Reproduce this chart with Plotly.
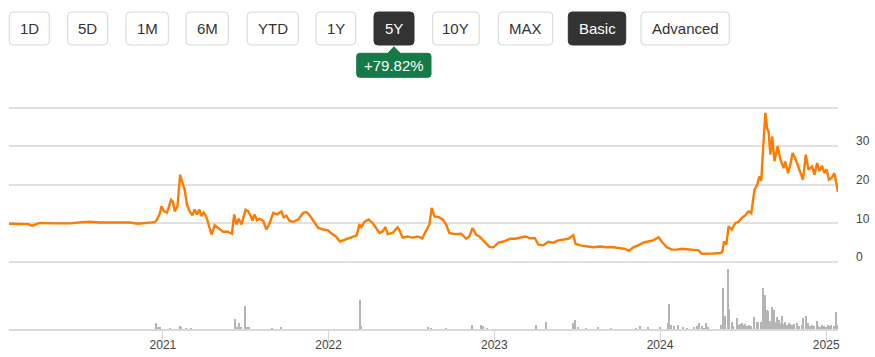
import plotly.graph_objects as go

# ---------------- data ----------------
price_dates = [
    "2020-01-28", "2020-02-21", "2020-03-10", "2020-03-19", "2020-03-28", "2020-04-05",
    "2020-05-08", "2020-06-10", "2020-07-07", "2020-07-24", "2020-08-15", "2020-09-17",
    "2020-10-20", "2020-11-07", "2020-11-29", "2020-12-14", "2020-12-19", "2020-12-25",
    "2020-12-29", "2021-01-03", "2021-01-10", "2021-01-19", "2021-01-23", "2021-01-27",
    "2021-02-02", "2021-02-08", "2021-02-13", "2021-02-18", "2021-02-23", "2021-03-01",
    "2021-03-07", "2021-03-12", "2021-03-17", "2021-03-22", "2021-03-27", "2021-04-01",
    "2021-04-07", "2021-04-13", "2021-04-18", "2021-04-25", "2021-05-06", "2021-05-14",
    "2021-05-22", "2021-05-28", "2021-06-02", "2021-06-07", "2021-06-12", "2021-06-17",
    "2021-06-23", "2021-07-02", "2021-07-08", "2021-07-13", "2021-07-17", "2021-07-22",
    "2021-07-27", "2021-08-02", "2021-08-10", "2021-08-17", "2021-08-23", "2021-09-01",
    "2021-09-10", "2021-09-19", "2021-09-24", "2021-09-30", "2021-10-07", "2021-10-15",
    "2021-10-26", "2021-11-06", "2021-11-13", "2021-11-20", "2021-12-01", "2021-12-09",
    "2021-12-20", "2021-12-31", "2022-01-06", "2022-01-17", "2022-01-26", "2022-02-05",
    "2022-02-16", "2022-02-27", "2022-03-04", "2022-03-10", "2022-03-13", "2022-03-21",
    "2022-03-30", "2022-04-08", "2022-04-15", "2022-04-23", "2022-04-30", "2022-05-06",
    "2022-05-11", "2022-05-22", "2022-06-02", "2022-06-06", "2022-06-13", "2022-06-24",
    "2022-07-05", "2022-07-16", "2022-07-26", "2022-08-04", "2022-08-11", "2022-08-16",
    "2022-08-22", "2022-09-01", "2022-09-09", "2022-09-17", "2022-09-24", "2022-10-05",
    "2022-10-20", "2022-10-31", "2022-11-07", "2022-11-14", "2022-11-22", "2022-11-29",
    "2022-12-10", "2022-12-21", "2022-12-30", "2023-01-10", "2023-01-21", "2023-02-05",
    "2023-02-16", "2023-02-27", "2023-03-10", "2023-03-21", "2023-03-31", "2023-04-08",
    "2023-04-19", "2023-04-30", "2023-05-11", "2023-05-22", "2023-06-02", "2023-06-13",
    "2023-06-24", "2023-06-29", "2023-07-09", "2023-07-23", "2023-08-07", "2023-08-22",
    "2023-09-05", "2023-09-20", "2023-10-05", "2023-10-16", "2023-10-25", "2023-11-03",
    "2023-11-14", "2023-11-25", "2023-12-06", "2023-12-17", "2023-12-29", "2024-01-05",
    "2024-01-16", "2024-01-27", "2024-02-07", "2024-02-18", "2024-02-29", "2024-03-15",
    "2024-03-26", "2024-04-02", "2024-04-13", "2024-04-28", "2024-05-13", "2024-05-17",
    "2024-05-21", "2024-05-26", "2024-05-31", "2024-06-07", "2024-06-15", "2024-06-22",
    "2024-06-29", "2024-07-07", "2024-07-14", "2024-07-20", "2024-07-27", "2024-08-02",
    "2024-08-07", "2024-08-11", "2024-08-16", "2024-08-20", "2024-08-24", "2024-08-27",
    "2024-08-31", "2024-09-04", "2024-09-09", "2024-09-16", "2024-09-22", "2024-09-29",
    "2024-10-03", "2024-10-09", "2024-10-14", "2024-10-19", "2024-10-25", "2024-10-31",
    "2024-11-05", "2024-11-11", "2024-11-17", "2024-11-23", "2024-12-01", "2024-12-06",
    "2024-12-12", "2024-12-17", "2024-12-23", "2024-12-28", "2025-01-02", "2025-01-07",
    "2025-01-13", "2025-01-19", "2025-01-24", "2025-01-27",
]
price_values = [
    9.9, 9.9, 9.8, 9.4, 9.7, 10.1,
    10.0, 10.0, 10.3, 10.4, 10.2, 10.2,
    10.2, 9.9, 10.1, 10.3, 11.0, 12.5,
    14.4, 13.2, 12.8, 16.1, 15.6, 13.1,
    14.4, 22.6, 20.5, 18.7, 14.8, 13.1,
    12.1, 13.6, 12.3, 13.6, 11.9, 12.8,
    11.6, 9.2, 7.1, 9.5, 8.4, 7.8,
    7.9, 7.5, 7.3, 12.3, 9.7, 11.2,
    9.7, 13.5, 13.1, 12.0, 10.7, 12.3,
    10.8, 11.2, 10.6, 8.4, 9.7, 12.7,
    12.3, 13.1, 11.6, 12.0, 10.6, 10.4,
    11.0, 12.7, 12.9, 12.1, 10.1, 8.8,
    8.4, 8.2, 7.5, 6.6, 5.3, 5.7,
    6.3, 6.6, 6.9, 9.8, 8.8, 10.4,
    11.0, 10.1, 8.8, 7.5, 7.9, 9.0,
    7.2, 7.5, 9.0, 8.2, 6.3, 6.6,
    6.3, 6.6, 6.1, 8.2, 9.7, 14.0,
    11.8, 11.6, 11.0, 9.7, 7.5, 7.2,
    7.3, 6.0, 6.6, 8.8, 7.0, 6.6,
    5.3, 3.9, 3.8, 5.0, 5.3, 6.0,
    6.0, 6.3, 6.6, 6.1, 6.2, 4.5,
    4.3, 5.2, 5.0, 5.6, 5.8, 6.0,
    6.9, 4.7, 4.3, 4.0, 3.8, 4.0,
    3.8, 3.8, 3.6, 3.4, 2.9, 3.8,
    4.3, 5.0, 5.3, 5.6, 6.4, 5.2,
    3.8, 3.2, 3.2, 3.4, 3.3, 3.2,
    3.0, 2.1, 2.1, 2.2, 2.3, 2.6,
    5.3, 4.5, 9.2, 8.4, 10.1, 10.4,
    11.4, 12.1, 13.1, 12.6, 18.7, 20.0,
    22.2, 21.0, 31.2, 38.6, 34.5, 33.8,
    27.8, 32.5, 26.1, 30.0, 26.6, 24.3,
    26.0, 23.0, 25.2, 28.2, 26.8, 24.8,
    23.5, 21.3, 27.8, 23.9, 24.7, 22.6,
    25.6, 23.5, 24.9, 23.0, 24.0, 21.3,
    21.8, 23.0, 20.0, 18.1,
]

volume_dates = [
    "2020-12-18", "2020-12-22", "2020-12-25", "2021-01-16", "2021-02-07", "2021-02-11",
    "2021-02-22", "2021-03-05", "2021-06-10", "2021-06-13", "2021-06-18", "2021-06-23",
    "2021-07-02", "2021-07-06", "2021-07-11", "2021-08-30", "2021-09-19", "2022-03-11",
    "2022-03-13", "2022-08-08", "2022-08-14", "2022-09-17", "2022-11-14", "2022-12-03",
    "2022-12-08", "2022-12-17", "2023-04-04", "2023-04-26", "2023-06-24", "2023-06-29",
    "2023-07-04", "2023-07-23", "2023-08-18", "2023-09-16", "2023-11-10", "2023-11-19",
    "2023-12-06", "2024-01-02", "2024-01-19", "2024-01-22", "2024-01-26", "2024-02-01",
    "2024-02-11", "2024-02-21", "2024-03-01", "2024-03-16", "2024-03-23", "2024-03-28",
    "2024-04-02", "2024-04-07", "2024-04-11", "2024-04-16", "2024-05-14", "2024-05-19",
    "2024-05-24", "2024-05-30", "2024-06-02", "2024-06-07", "2024-06-11", "2024-06-18",
    "2024-06-22", "2024-06-25", "2024-06-29", "2024-07-03", "2024-07-07", "2024-07-11",
    "2024-07-16", "2024-07-20", "2024-07-27", "2024-08-02", "2024-08-05", "2024-08-10",
    "2024-08-16", "2024-08-20", "2024-08-24", "2024-08-27", "2024-08-31", "2024-09-04",
    "2024-09-08", "2024-09-11", "2024-09-15", "2024-09-19", "2024-09-22", "2024-09-26",
    "2024-09-30", "2024-10-03", "2024-10-08", "2024-10-12", "2024-10-14", "2024-10-19",
    "2024-10-23", "2024-10-29", "2024-11-03", "2024-11-08", "2024-11-12", "2024-11-18",
    "2024-11-23", "2024-11-27", "2024-12-01", "2024-12-06", "2024-12-12", "2024-12-15",
    "2024-12-19", "2024-12-23", "2024-12-28", "2025-01-01", "2025-01-05", "2025-01-09",
    "2025-01-13", "2025-01-18", "2025-01-24", "2025-01-27",
]
volume_values = [
    6.0, 2.0, 1.5, 1.0, 3.0, 1.5,
    1.0, 1.0, 10.0, 2.0, 6.0, 2.0,
    23.0, 2.0, 1.5, 1.0, 2.0, 29.0,
    3.0, 1.5, 1.0, 0.8, 4.0, 4.0,
    3.0, 1.0, 4.0, 7.0, 6.0, 9.0,
    2.0, 1.0, 1.5, 1.0, 1.0, 3.0,
    2.0, 2.0, 6.0, 25.0, 4.0, 3.0,
    4.0, 1.5, 1.0, 2.0, 3.0, 6.0,
    3.0, 1.0, 6.0, 2.0, 4.0, 41.0,
    13.0, 60.0, 20.0, 7.0, 3.0, 11.0,
    4.0, 5.0, 6.0, 4.0, 5.0, 3.0,
    4.0, 3.0, 12.0, 7.0, 7.0, 7.0,
    41.0, 34.0, 19.0, 18.0, 8.0, 22.0,
    19.0, 7.0, 12.0, 9.0, 6.0, 13.0,
    5.0, 7.0, 4.0, 6.0, 5.0, 4.0,
    5.0, 6.0, 3.0, 4.0, 11.0, 13.0,
    6.0, 3.0, 4.0, 3.0, 8.0, 3.0,
    2.0, 4.0, 3.0, 2.0, 4.0, 3.0,
    4.0, 3.0, 17.0, 4.0,
]

x_range = ["2020-01-28", "2025-01-27"]
x_tick_dates = ["2021-01-01", "2022-01-01", "2023-01-01", "2024-01-01", "2025-01-01"]
x_tick_labels = ["2021", "2022", "2023", "2024", "2025"]
price_ticks = [0, 10, 20, 30, 40]
price_tick_labels = ["0", "10", "20", "30", ""]

range_buttons = ["1D", "5D", "1M", "6M", "YTD", "1Y", "5Y", "10Y", "MAX"]
mode_buttons = ["Basic", "Advanced"]
selected = {"5Y", "Basic"}
change_label = "+79.82%"

# ---------------- page geometry (page pixels) ----------------
W, H = 875, 357
PLOT_L, PLOT_R = 9, 838
PLOT_T, PLOT_B = 106, 329
ML, MR, MT, MB = PLOT_L, W - PLOT_R, PLOT_T, H - PLOT_B
PW = PLOT_R - PLOT_L
PH = PLOT_B - PLOT_T
FONT = "Arial, 'Liberation Sans', sans-serif"

PRICE_RANGE = [-0.4, 40.4]
px_per_unit = 3.86
price_bottom_px = PLOT_T + (PRICE_RANGE[1] - PRICE_RANGE[0]) * px_per_unit
vol_top_px = 264


def fx(px):
    return (px - PLOT_L) / PW


def fy(py):
    return (PLOT_B - py) / PH


def rounded_path(x0, y0, x1, y1, r, notch=None):
    pts = [f"M{fx(x0 + r)},{fy(y0)}"]
    if notch is not None:
        nx, nw, ny = notch
        pts.append(f"L{fx(nx - nw)},{fy(y0)}")
        pts.append(f"L{fx(nx)},{fy(ny)}")
        pts.append(f"L{fx(nx + nw)},{fy(y0)}")
    pts.append(f"L{fx(x1 - r)},{fy(y0)}")
    pts.append(f"Q{fx(x1)},{fy(y0)} {fx(x1)},{fy(y0 + r)}")
    pts.append(f"L{fx(x1)},{fy(y1 - r)}")
    pts.append(f"Q{fx(x1)},{fy(y1)} {fx(x1 - r)},{fy(y1)}")
    pts.append(f"L{fx(x0 + r)},{fy(y1)}")
    pts.append(f"Q{fx(x0)},{fy(y1)} {fx(x0)},{fy(y1 - r)}")
    pts.append(f"L{fx(x0)},{fy(y0 + r)}")
    pts.append(f"Q{fx(x0)},{fy(y0)} {fx(x0 + r)},{fy(y0)}")
    pts.append("Z")
    return " ".join(pts)


fig = go.Figure()

fig.add_trace(go.Bar(
    x=volume_dates, y=volume_values, xaxis="x2", yaxis="y2",
    marker=dict(color="#b4b4b4", line=dict(width=0)),
    width=3 * 86400000, hoverinfo="skip", showlegend=False,
))
fig.add_trace(go.Scatter(
    x=price_dates, y=price_values, xaxis="x", yaxis="y", mode="lines",
    line=dict(color="#ff7b00", width=2.4), hoverinfo="skip", showlegend=False,
))

grid = "#e1e1e1"

fig.update_layout(
    width=W, height=H,
    margin=dict(l=ML, r=MR, t=MT, b=MB, pad=0, autoexpand=False),
    paper_bgcolor="white", plot_bgcolor="white",
    font=dict(family=FONT, color="#444"),
    bargap=0,
    xaxis=dict(domain=[0, 1], anchor="y", range=x_range, matches="x2",
               showticklabels=False, showgrid=False, zeroline=False, ticks="",
               automargin=False),
    yaxis=dict(domain=[fy(price_bottom_px), 1], anchor="x", range=PRICE_RANGE,
               side="right", tickvals=price_ticks, ticktext=price_tick_labels,
               showgrid=True, gridcolor=grid, gridwidth=2, zeroline=False,
               showline=False, ticks="", ticklabelshift=-5, ticklabelstandoff=17,
               automargin=False,
               tickfont=dict(size=12, color="#444", family=FONT)),
    xaxis2=dict(domain=[0, 1], anchor="y2", range=x_range, type="date",
                tickvals=x_tick_dates, ticktext=x_tick_labels,
                ticks="outside", ticklen=11, tickcolor="#d6d6d6", tickwidth=1,
                ticklabelstandoff=-7,
                showgrid=False, zeroline=False, showline=True,
                linecolor="#d9d9d9", linewidth=1.5, automargin=False,
                tickfont=dict(size=12, color="#444", family=FONT)),
    yaxis2=dict(domain=[0, fy(vol_top_px)], anchor="x2", range=[0, 65],
                visible=False, showgrid=False, zeroline=False),
)

# ---------------- buttons ----------------
button_boxes = {
    "1D": (9.3, 49.3), "5D": (67.7, 107.7), "1M": (126, 168.3), "6M": (186, 228.3),
    "YTD": (247.3, 298.3), "1Y": (316, 355.7), "5Y": (374, 414), "10Y": (432.7, 479.3),
    "MAX": (498.3, 552.7), "Basic": (568.3, 625.7), "Advanced": (641, 729.3),
}
shapes = []
annotations = []
for label in range_buttons + mode_buttons:
    x0, x1 = button_boxes[label]
    dark = label in selected
    shapes.append(dict(
        type="path", xref="paper", yref="paper",
        path=rounded_path(x0, 12, x1, 45, 4),
        fillcolor="#333333" if dark else "white",
        line=dict(color="#333333" if dark else "#d6d6d6", width=1),
        layer="above",
    ))
    annotations.append(dict(
        xref="paper", yref="paper", x=fx((x0 + x1) / 2), y=fy(28.3),
        text=label, showarrow=False, xanchor="center", yanchor="middle",
        font=dict(family=FONT, size=15, color="white" if dark else "#333"),
    ))

shapes.append(dict(
    type="path", xref="paper", yref="paper",
    path=rounded_path(356.7, 53.3, 431, 77.3, 3, notch=(394, 6.3, 46.7)),
    fillcolor="#157a47", line=dict(color="#157a47", width=1), layer="above",
))
annotations.append(dict(
    xref="paper", yref="paper", x=fx(393.8), y=fy(65.5), text=change_label,
    showarrow=False, xanchor="center", yanchor="middle",
    font=dict(family=FONT, size=15, color="white"),
))

fig.update_layout(shapes=shapes, annotations=annotations)

# the page body's default 8px margin would push the 875x357 figure off the window
fig.write_html("out.html", config={"displayModeBar": False},
               post_script="document.body.style.margin='0px';")
